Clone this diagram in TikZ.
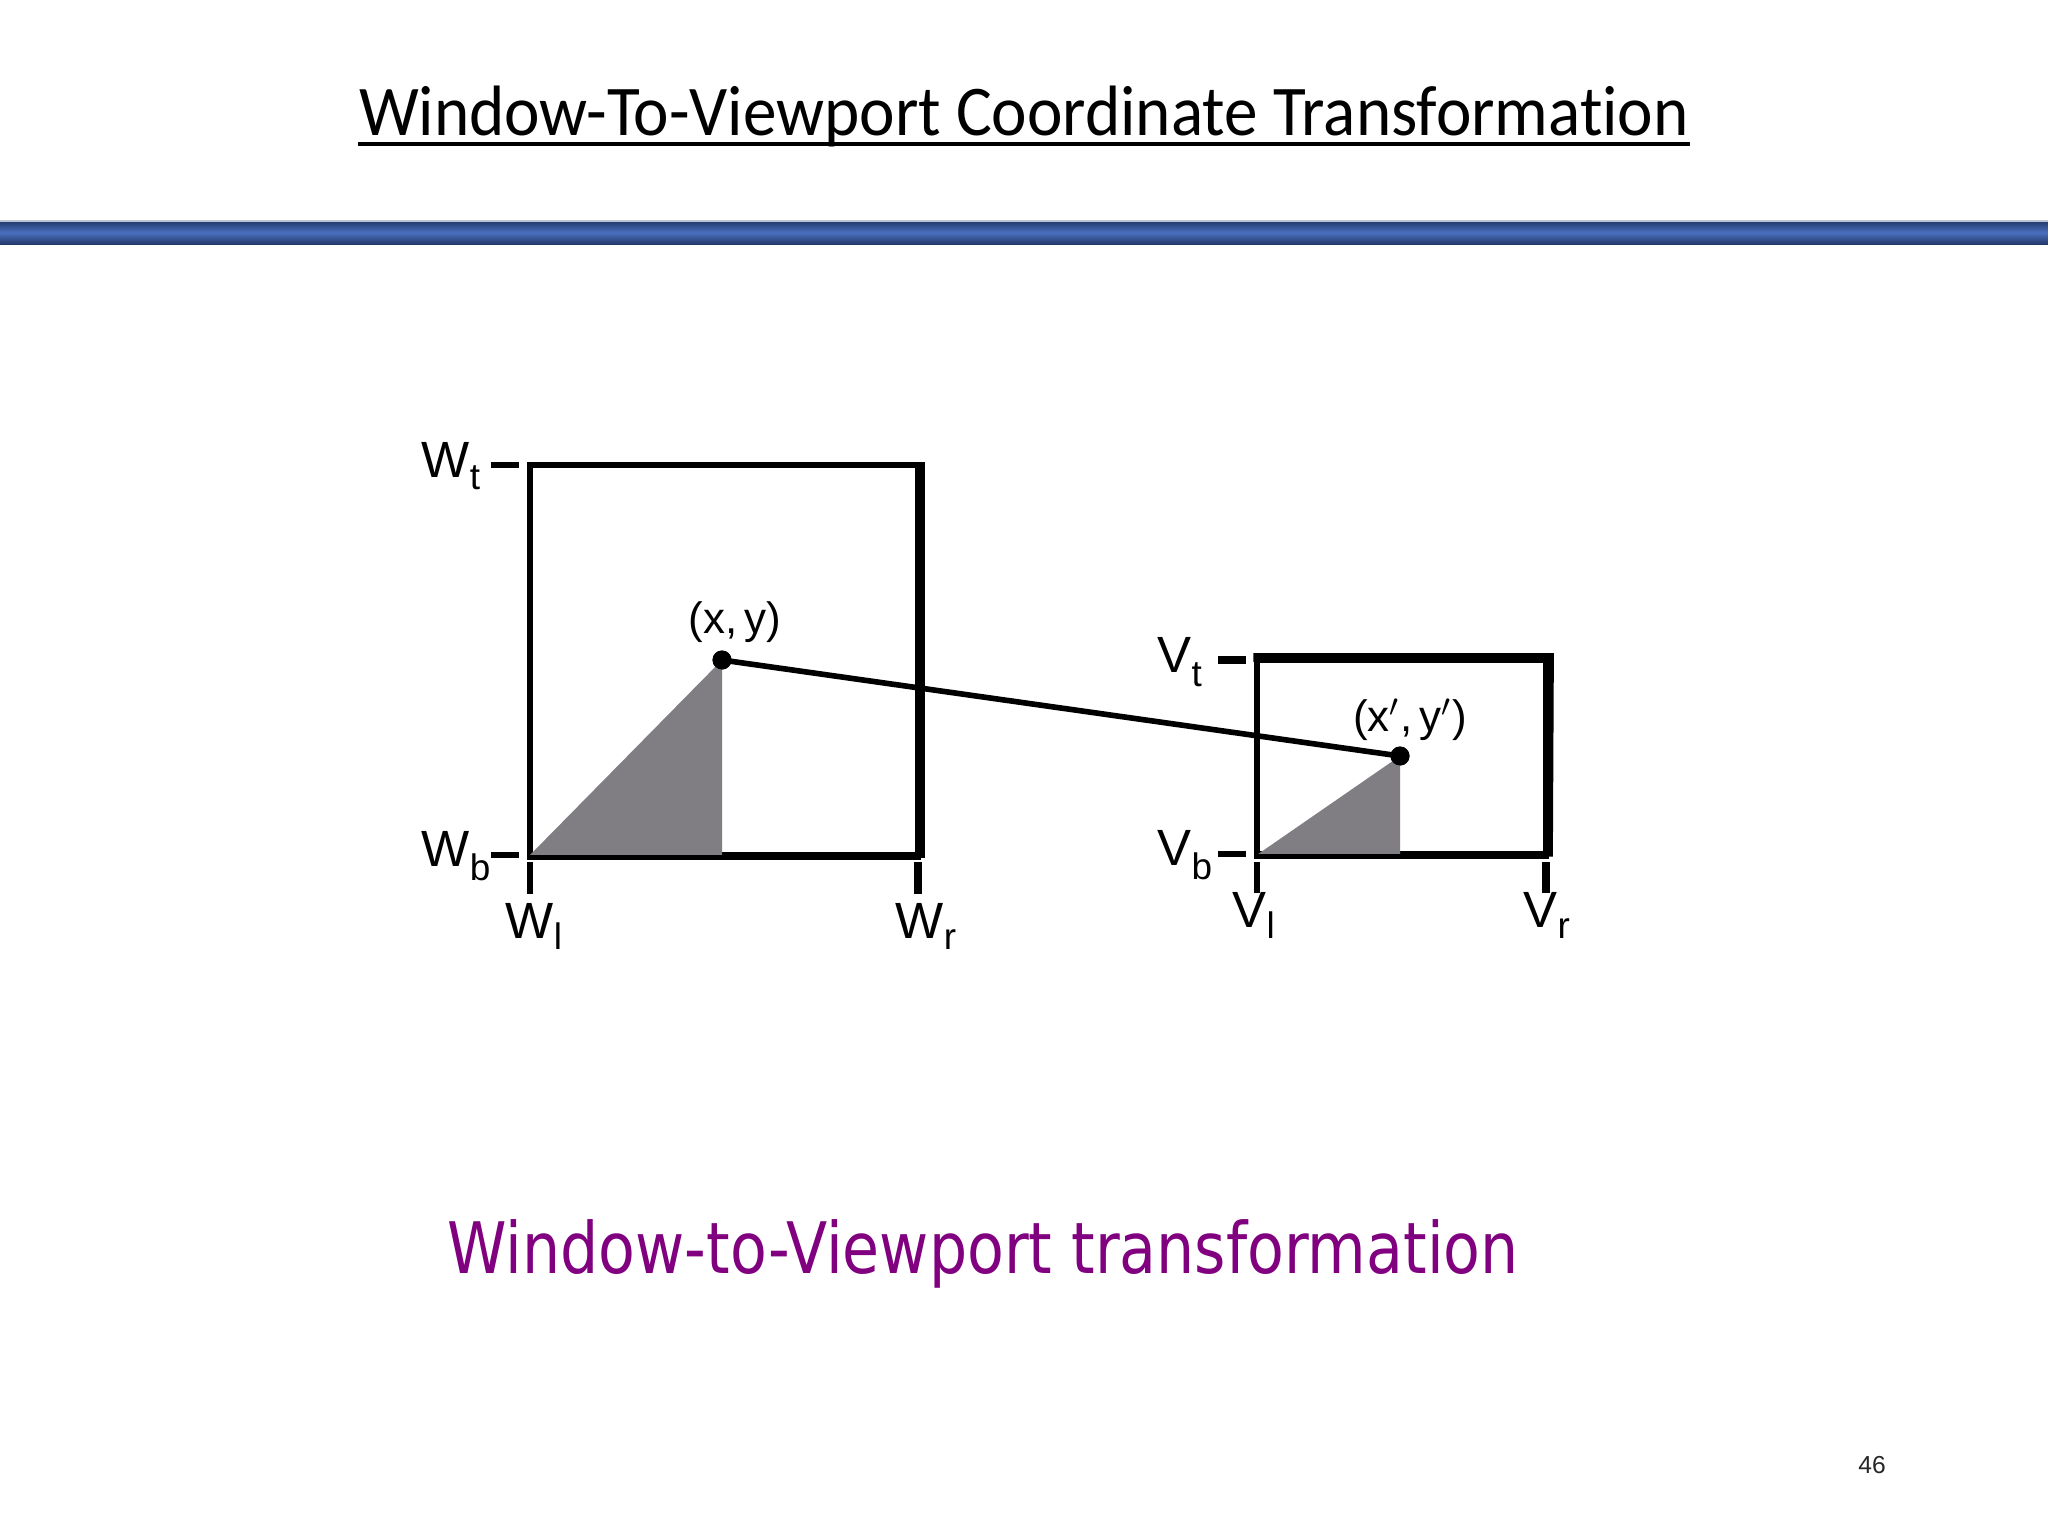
\documentclass[tikz,border=0pt]{standalone}
\usepackage{fontspec}
\setmainfont{Liberation Sans}
\newfontfamily\carl[Ligatures=NoCommon]{Carlito}
\newfontfamily\capfont{DejaVu Sans}
\definecolor{bardark}{HTML}{24396B}
\definecolor{barmid}{HTML}{4A70BF}
\definecolor{shadegray}{HTML}{807E83}
\definecolor{slidepurple}{HTML}{800080}
\newcommand\lsub[2][3.8pt]{\raisebox{-#1}{\fontsize{10.5}{10.5}\selectfont #2}}
\begin{document}
\begin{tikzpicture}[x=0.1mm,y=-0.1mm,
  thinline/.style={line width=1.45pt},
  thickline/.style={line width=2.45pt},
  lbl/.style={inner sep=0pt, anchor=base west, font=\fontsize{14.5}{14.5}\selectfont},
  ptlbl/.style={inner sep=0pt, font=\fontsize{12.5}{12.5}\selectfont},
  dot/.style={circle, fill=black, inner sep=0pt, minimum size=1.9mm},
  boxnode/.style={draw, thinline, inner sep=0pt, rectangle}]
\path[use as bounding box, fill=white] (0,0) rectangle (2048,1536);

% title
\node[inner sep=0pt, anchor=base, font=\carl\fontsize{20.3}{20.3}\selectfont] (title) at (1024,135) {\resizebox{133mm}{\height}{Window-To-Viewport Coordinate Transformation}};
\draw[line width=1.15pt] ([yshift=-0.9mm]title.base west) -- ([yshift=-0.9mm]title.base east);

% blue bar
\shade[top color=bardark, bottom color=bardark, middle color=barmid] (0,221) rectangle (2048,244);
\draw[line width=0.3pt, color=bardark!30] (0,221) -- (2048,221);

% window and viewport
\node[boxnode, minimum width=38.8mm, minimum height=39mm] (win) at (724,660) {};
\node[boxnode, minimum width=28.9mm, minimum height=19.4mm] (vp) at (1401.5,757) {};

\node[dot] (p) at (722,660) {};
\node[dot] (q) at (1400,756) {};

\fill[shadegray] (win.south west) -- (p.center) -- (p.center |- win.south) -- cycle;
\fill[shadegray] (vp.south west) -- (q.center) -- (q.center |- vp.south) -- cycle;
\node[dot] at (p.center) {};
\node[dot] at (q.center) {};

% thick sides
\draw[thickline] (win.north east) -- (win.south east);
\draw[thickline] ([xshift=-0.1mm]vp.north west) -- ([xshift=0.1mm]vp.north east) -- (vp.south east);
\draw[thinline] (win.south west) -- (win.south east);
\draw[thinline] (vp.south west) -- (vp.south east);

% connector
\draw[line width=1.6pt] (p.center) -- (q.center);

% ticks window
\draw[thinline] (491,465) -- (519,465);
\draw[thinline] (491,855) -- (519,855);
\draw[thinline] (530,862) -- (530,894);
\draw[thickline] (918,862) -- (918,894);
% ticks viewport
\draw[thickline] (1218,660) -- (1246,660);
\draw[thinline] (1218,854) -- (1246,854);
\draw[thinline] (1257,862) -- (1257,893);
\draw[thickline] (1546,862) -- (1546,893);

% labels
\node[lbl] (wt) at (421,477) {W\lsub[3.6pt]{t}};
\node[lbl] (wb) at (421,866) {W\lsub[4.2pt]{b}};
\node[lbl] (wl) at (505,938) {W\lsub[3.4pt]{l}};
\node[lbl] (wr) at (895,938) {W\lsub[3.4pt]{r}};
\node[lbl] (vt) at (1157,672) {V\lsub[4.2pt]{t}};
\node[lbl] (vb) at (1157,865) {V\lsub[4.2pt]{b}};
\node[lbl] (vl) at (1232,927) {V\lsub[3.4pt]{l}};
\node[lbl] (vr) at (1523,927) {V\lsub[3.4pt]{r}};

\node[ptlbl] (pl) at (735,622) {(x,\,y)};
\node[ptlbl] (ql) at (1410,720) {(x$'$,\,y$'$)};

% caption
\node[inner sep=0pt, anchor=base, text=slidepurple, font=\capfont\fontsize{20.2}{20.2}\selectfont] (cap) at (983,1273) {\resizebox{107.1mm}{\height}{Window-to-Viewport transformation}};

% page number
\node[inner sep=0pt, text=black!85, font=\fontsize{7}{7}\selectfont] (num) at (1872,1465) {46};
\end{tikzpicture}
\end{document}
